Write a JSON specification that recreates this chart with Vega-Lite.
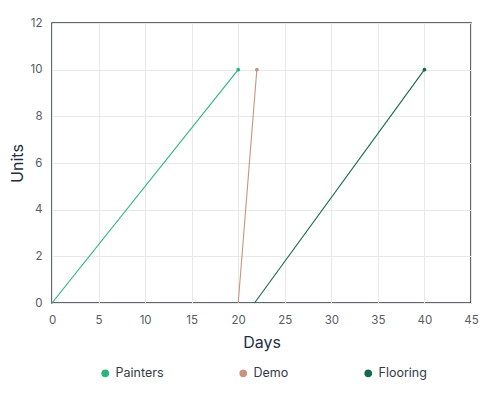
{
  "$schema": "https://vega.github.io/schema/vega-lite/v6.json",
  "width": 419,
  "height": 280,
  "autosize": "none",
  "padding": {"left": 52, "top": 23, "right": 29, "bottom": 97},
  "background": "white",
  "config": {
    "font": "Inter",
    "view": {"stroke": "#2b3642", "strokeWidth": 1.5},
    "axis": {
      "gridColor": "#e8e8e8",
      "domain": false,
      "ticks": false,
      "labelFlush": false,
      "labelColor": "#555b63",
      "labelFontSize": 11.5,
      "labelFont": "Inter",
      "titleColor": "#1f2e42",
      "titleFont": "Inter",
      "titleFontSize": 16,
      "titleFontWeight": "normal"
    },
    "legend": {
      "labelFont": "Inter",
      "labelFontSize": 12.5,
      "labelColor": "#333b46"
    }
  },
  "data": {
    "values": [
      {"series": "Painters", "day": 0, "units": 0},
      {"series": "Painters", "day": 20, "units": 10},
      {"series": "Demo", "day": 20, "units": 0},
      {"series": "Demo", "day": 22, "units": 10},
      {"series": "Flooring", "day": 21.75, "units": 0},
      {"series": "Flooring", "day": 40, "units": 10}
    ]
  },
  "encoding": {
    "x": {
      "field": "day", "type": "quantitative", "title": "Days",
      "scale": {"domain": [0, 45], "nice": false},
      "axis": {"values": [0, 5, 10, 15, 20, 25, 30, 35, 40, 45], "labelPadding": 11, "titlePadding": 9}
    },
    "y": {
      "field": "units", "type": "quantitative", "title": "Units",
      "scale": {"domain": [0, 12], "nice": false},
      "axis": {"values": [0, 2, 4, 6, 8, 10, 12], "labelPadding": 10, "titlePadding": 5}
    },
    "color": {
      "field": "series", "type": "nominal", "title": null,
      "scale": {"domain": ["Painters", "Demo", "Flooring"], "range": ["#2bb47a", "#c99580", "#16684f"]},
      "legend": {
        "orient": "none", "direction": "horizontal", "legendX": 47, "legendY": 344,
        "symbolType": "circle", "symbolSize": 40, "symbolOpacity": 1, "columnPadding": 73, "labelOffset": 4
      }
    }
  },
  "layer": [
    {"mark": {"type": "line", "strokeWidth": 1.1}},
    {
      "transform": [{"filter": "datum.units == 10"}],
      "mark": {"type": "point", "filled": true, "size": 14, "opacity": 1}
    }
  ]
}
